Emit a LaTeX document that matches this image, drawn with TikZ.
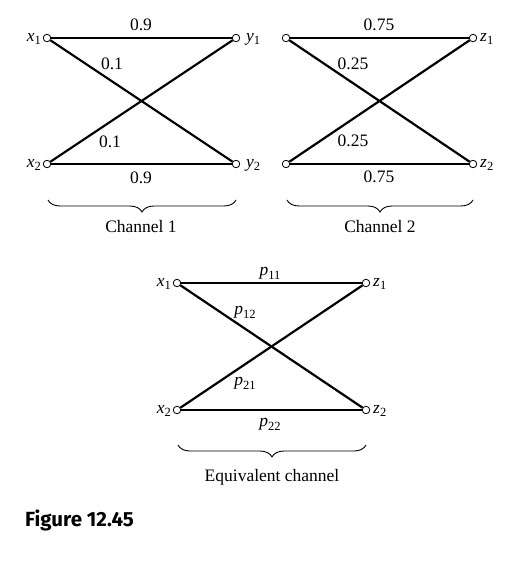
\documentclass[tikz,border=0pt]{standalone}
\usepackage{fontspec}
\setmainfont{Liberation Serif}
\newfontfamily\capfont{Fira Sans}
\usetikzlibrary{decorations.pathreplacing}
\newcommand{\sub}[1]{\raisebox{-0.22em}{\fontsize{12.5}{14}\selectfont #1}}
\begin{document}
\begin{tikzpicture}[x=1pt,y=-1pt,
  term/.style={circle,draw,fill=white,inner sep=0pt,minimum size=7.5pt,line width=0.8pt},
  link/.style={line width=2.2pt},
  lbl/.style={font=\fontsize{17.5}{20}\selectfont,inner sep=0pt},
  br/.style={decorate,decoration={brace,mirror,amplitude=12pt},line width=0.9pt}]
\useasboundingbox (0,0) rectangle (521,562);
% ---------- Channel 1 ----------
\node[term] (a1) at (47,38) {};
\node[term] (a2) at (47,164) {};
\node[term] (b1) at (236,38) {};
\node[term] (b2) at (236,164) {};
\draw[link] (a1) -- (b1);
\draw[link] (a2) -- (b2);
\draw[link] (a1) -- (b2);
\draw[link] (a2) -- (b1);
\node[lbl,anchor=east] (la1) at (41,39) {\textit{x}\sub{1}};
\node[lbl,anchor=east] (la2) at (41,165) {\textit{x}\sub{2}};
\node[lbl,anchor=west] (lb1) at (246,39) {\textit{y}\sub{1}};
\node[lbl,anchor=west] (lb2) at (246,165) {\textit{y}\sub{2}};
\node[lbl] (p1a) at (141,25) {0.9};
\node[lbl] (p1b) at (112,64) {0.1};
\node[lbl] (p1c) at (110,142) {0.1};
\node[lbl] (p1d) at (141,178) {0.9};
\coordinate (c1l) at (48,200);
\coordinate (c1r) at (236,200);
\draw[br] (c1l) -- (c1r);
\node[lbl] (ch1) at (141,227) {Channel 1};
% ---------- Channel 2 ----------
\node[term] (d1) at (286,38) {};
\node[term] (d2) at (286,164) {};
\node[term] (e1) at (473,38) {};
\node[term] (e2) at (473,164) {};
\draw[link] (d1) -- (e1);
\draw[link] (d2) -- (e2);
\draw[link] (d1) -- (e2);
\draw[link] (d2) -- (e1);
\node[lbl,anchor=west] (le1) at (480,39) {\textit{z}\sub{1}};
\node[lbl,anchor=west] (le2) at (480,165) {\textit{z}\sub{2}};
\node[lbl] (p2a) at (379,25) {0.75};
\node[lbl] (p2b) at (353,64) {0.25};
\node[lbl] (p2c) at (353,141) {0.25};
\node[lbl] (p2d) at (379,177) {0.75};
\coordinate (c2l) at (287,200);
\coordinate (c2r) at (473,200);
\draw[br] (c2l) -- (c2r);
\node[lbl] (ch2) at (380,227) {Channel 2};
% ---------- Equivalent channel ----------
\node[term] (f1) at (177,283) {};
\node[term] (f2) at (177,410) {};
\node[term] (g1) at (366,283) {};
\node[term] (g2) at (366,410) {};
\draw[link] (f1) -- (g1);
\draw[link] (f2) -- (g2);
\draw[link] (f1) -- (g2);
\draw[link] (f2) -- (g1);
\node[lbl,anchor=east] (lf1) at (171,284) {\textit{x}\sub{1}};
\node[lbl,anchor=east] (lf2) at (171,411) {\textit{x}\sub{2}};
\node[lbl,anchor=west] (lg1) at (373,284) {\textit{z}\sub{1}};
\node[lbl,anchor=west] (lg2) at (373,411) {\textit{z}\sub{2}};
\node[lbl] (q11) at (270,273) {\textit{p}\sub{11}};
\node[lbl] (q12) at (245,312) {\textit{p}\sub{12}};
\node[lbl] (q21) at (245,383) {\textit{p}\sub{21}};
\node[lbl] (q22) at (270,424) {\textit{p}\sub{22}};
\coordinate (c3l) at (178,445);
\coordinate (c3r) at (366,445);
\draw[br] (c3l) -- (c3r);
\node[lbl] (ch3) at (272,477) {Equivalent channel};
% ---------- caption ----------
\node[anchor=west,inner sep=0pt,font=\capfont\bfseries\fontsize{20.5}{24}\selectfont] (cap) at (25,520) {Figure 12.45};
\end{tikzpicture}
\end{document}
